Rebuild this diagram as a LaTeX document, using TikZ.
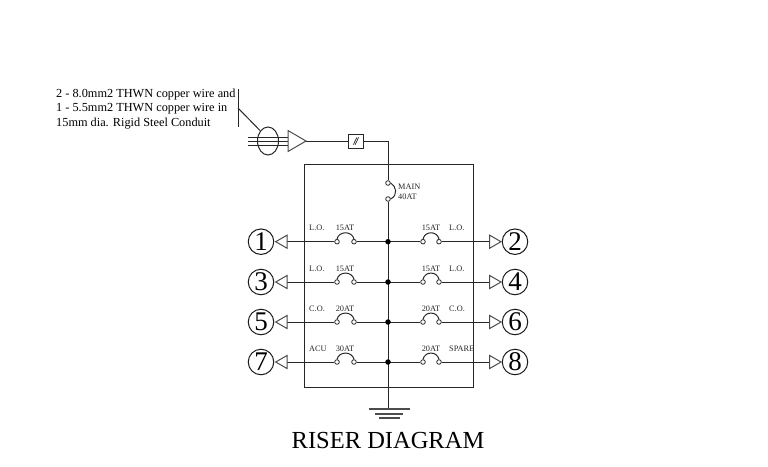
\documentclass[tikz,border=0pt]{standalone}
\usepackage{fontspec}
\setmainfont{Liberation Serif}
\usetikzlibrary{calc,shapes.geometric}
\tikzset{
 wire/.style={draw=black!85,line width=1pt},
 term/.style={circle,draw=black!85,line width=0.8pt,fill=white,inner sep=0pt,minimum size=4.6pt},
 junction/.style={circle,fill=black,inner sep=0pt,minimum size=5.5pt},
 numcirc/.style={circle,draw=black!90,line width=1pt,inner sep=0pt,minimum size=25.5pt,font=\fontsize{27}{27}\selectfont},
 small/.style={font=\fontsize{8.3}{9}\selectfont,text=black!85,inner sep=0pt},
 note/.style={font=\fontsize{12.3}{14.5}\selectfont,inner sep=0pt,anchor=base west},
 tri/.style={draw=black!70,line width=1pt,fill=white,line join=miter},
 earth/.style={draw=black!70,line width=1.2pt},
}
\newcommand{\branch}[8]{%
 \coordinate (J#1) at (388,#2);
 \node[numcirc] (N#3) at (261,#2) {#3};
 \node[numcirc] (N#6) at (515,#2) {#6};
 \coordinate (LT#1) at (287,#2);
 \coordinate (RT#1) at (489.7,#2);
 \node[term] (La#1) at (337,#2) {};
 \node[term] (Lb#1) at (354,#2) {};
 \node[term] (Ra#1) at (423,#2) {};
 \node[term] (Rb#1) at (439,#2) {};
 \draw[wire] (LT#1) -- (La#1);
 \draw[wire] (Lb#1) -- (J#1);
 \draw[wire] (J#1) -- (Ra#1);
 \draw[wire] (Rb#1) -- (RT#1);
 \draw[wire] (La#1.north) .. controls ($(La#1)+(2,-11)$) and ($(Lb#1)+(-2,-11)$) .. (Lb#1.north);
 \draw[wire] (Ra#1.north) .. controls ($(Ra#1)+(2,-11)$) and ($(Rb#1)+(-2,-11)$) .. (Rb#1.north);
 \draw[tri] (LT#1) -- ++(0,-6.5) -- ++(-11.3,6.5) -- ++(11.3,6.5) -- cycle;
 \draw[tri] (RT#1) -- ++(0,-6.5) -- ++(11.3,6.5) -- ++(-11.3,6.5) -- cycle;
 \node[junction] (JD#1) at (J#1) {};
 \node[small,anchor=base west] (LL#1) at (309,#2-11) {#4};
 \node[small,anchor=base] (LR#1) at (345,#2-11) {#5};
 \node[small,anchor=base] (RR#1) at (431,#2-11) {#8};
 \node[small,anchor=base west] (RL#1) at (449,#2-11) {#7};
}
\begin{document}
\begin{tikzpicture}[x=1pt,y=-1pt]
\useasboundingbox (0,0) rectangle (768,466);
\node[note] (t1) at (56,97) {2 - 8.0mm2 THWN copper wire and};
\node[note] (t2) at (56,111) {1 - 5.5mm2 THWN copper wire in};
\node[note] (t3) at (56,126) {15mm dia. Rigid Steel Conduit};
\coordinate (La) at (238,89);
\coordinate (Lb) at (238,127);
\coordinate (Lc) at (238,108);
\draw[wire] (La) -- (Lb);
\coordinate (Ca) at (248,137.3);
\coordinate (Cb) at (248,141);
\coordinate (Cc) at (248,145);
\coordinate (Ta) at (288,137.3);
\coordinate (Tb) at (288,141);
\coordinate (Tc) at (288,145);
\draw[wire] (Ca) -- (Ta);
\draw[wire] (Cb) -- (Tb);
\draw[wire] (Cc) -- (Tc);
\node[ellipse,draw=black!85,line width=1pt,inner sep=0pt,minimum width=21pt,minimum height=28pt] (E) at (268,141) {};
\draw[wire] (Lc) -- (E.north west);
\draw[tri,fill=none] (288,130.5) -- (306,141) -- (288,151.5) -- cycle;
\coordinate (Tip) at (306,141);
\node[draw=black!85,line width=1pt,minimum width=15.5pt,minimum height=14pt,inner sep=0pt] (S) at (356,141) {};
\draw[wire] (Tip) -- (S);
\draw[wire,line width=0.7pt] ($(S)+(-2.6,3.6)$) -- ($(S)+(0.8,-3.6)$) ($(S)+(-0.8,3.6)$) -- ($(S)+(2.6,-3.6)$);
\coordinate (Bend) at (388,141);
\node[term] (Ma) at (388,183) {};
\node[term] (Mb) at (388,199) {};
\node[draw=black!85,line width=1pt,inner sep=0pt,minimum width=168.5pt,minimum height=223.7pt] (P) at (388.75,275.85) {};
\draw[wire] (S) -- (Bend) -- (Ma);
\draw[wire] (Ma.east) .. controls (396,186) and (398.5,195) .. (Mb.east);
\coordinate (G) at (388,409);
\draw[wire] (Mb) -- (G);
\node[small,anchor=base west] (M1) at (398,189) {MAIN};
\node[small,anchor=base west] (M2) at (398,199) {40AT};
\branch{A}{241.7}{1}{L.O.}{15AT}{2}{L.O.}{15AT}
\branch{B}{282}{3}{L.O.}{15AT}{4}{L.O.}{15AT}
\branch{C}{322}{5}{C.O.}{20AT}{6}{C.O.}{20AT}
\branch{D}{362}{7}{ACU}{30AT}{8}{SPARE}{20AT}
\draw[earth] (369,409) -- (G) -- (410,409);
\draw[earth] (375,414) -- (403,414);
\draw[earth] (379,418) -- (400,418);
\node[inner sep=0pt,font=\fontsize{24.5}{24.5}\selectfont] (title) at (388,441) {RISER DIAGRAM};
\end{tikzpicture}
\end{document}
